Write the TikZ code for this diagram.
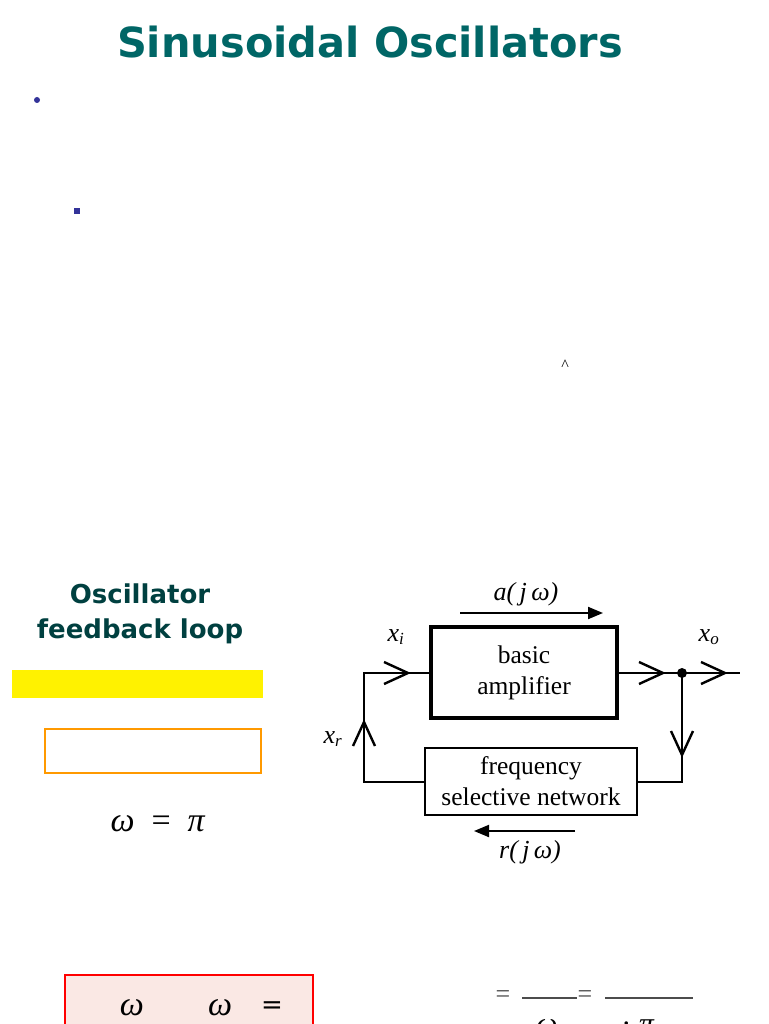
\documentclass[tikz,border=0pt]{standalone}
\usepackage{fontspec}
\setmainfont{Liberation Serif}
\newfontfamily\dvs{DejaVu Sans}
\usetikzlibrary{arrows.meta}
\definecolor{teal1}{RGB}{0,102,102}
\definecolor{teal2}{RGB}{0,64,64}
\definecolor{bul}{RGB}{51,51,153}
\definecolor{orng}{RGB}{255,153,0}
\definecolor{pinkf}{RGB}{250,232,228}
\begin{document}
\begin{tikzpicture}[x=1pt,y=-1pt,
  wire/.style={line width=2.4pt},
  chev/.style={line width=2.4pt},
  lbl/.style={font=\fontsize{26}{26}\selectfont\itshape},
  boxtxt/.style={font=\fontsize{25.5}{31}\selectfont,align=center}]
\useasboundingbox[fill=white] (0,0) rectangle (768,1024);
\node[font=\dvs\bfseries\fontsize{41.5}{44}\selectfont,text=teal1] (title) at (370,42) {Sinusoidal Oscillators};
\fill[bul] (37,100) circle (3);
\fill[bul] (74,208) rectangle (80,214);
\node[font=\fontsize{16}{16}\selectfont] (hat) at (565,365) {\^{}};
\node[font=\dvs\bfseries\fontsize{26}{35}\selectfont,text=teal2,align=center] (ofl) at (140,614) {Oscillator\\feedback loop};
\fill[yellow] (12,670) rectangle (263,698);
\draw[orng,line width=1.5pt] (45,729) rectangle (261,773);
\node[font=\fontsize{34}{34}\selectfont] (eq1) at (158,824) {\textit{ω}\ \ =\ \ \textit{π}};
\fill[pinkf] (65,975) rectangle (313,1030);
\draw[red,line width=1.5pt] (65,1030) -- (65,975) -- (313,975) -- (313,1030);
\node[font=\fontsize{34}{34}\selectfont] (pw1) at (132,1008) {\textit{ω}};
\node[font=\fontsize{34}{34}\selectfont] (pw2) at (220,1008) {\textit{ω}};
\node[font=\dvs\fontsize{26}{26}\selectfont] (peq) at (272,1008) {=};
\node[font=\fontsize{26}{26}\selectfont,text=gray!60!black] (r1) at (503,997) {=};
\draw[gray!60!black,line width=1.2pt] (522,998) -- (577,998);
\node[font=\fontsize{26}{26}\selectfont,text=gray!60!black] (r2) at (585,997) {=};
\draw[gray!60!black,line width=1.2pt] (605,998) -- (693,998);
\node[font=\fontsize{30}{30}\selectfont\itshape] (rw) at (547,1027) {ω};
\node[font=\fontsize{30}{30}\selectfont] (rd) at (638,1027) {·\ \textit{π}};
% diagram
\node[draw,line width=3.4pt,minimum width=186,minimum height=91,inner sep=0] (amp) at (524,672.5) {};
\node[boxtxt] at (amp) {basic\\amplifier};
\node[draw,line width=2.4pt,minimum width=212,minimum height=67,inner sep=0] (fsn) at (531,781.5) {};
\node[boxtxt] at (fsn) {frequency\\selective network};
\coordinate (tl) at (364,673);
\coordinate (bl) at (364,782);
\coordinate (jn) at (682,673);
\coordinate (br) at (682,782);
\coordinate (out) at (740,673);
\draw[wire] (amp.west |- tl) -- (tl) -- (bl) -- (fsn.west |- bl);
\draw[wire] (amp.east |- jn) -- (out);
\draw[wire] (jn) -- (br) -- (fsn.east |- br);
\fill (jn) circle (5);
\foreach \x in {408,663,725} \draw[chev] (\x-24,662) -- (\x,673) -- (\x-24,684);
\draw[chev] (671,731) -- (682,755) -- (693,731);
\draw[chev] (353,746) -- (364,722) -- (375,746);
\node[lbl] (xi) at (396,637) {x\textsubscript{\fontsize{17}{17}\selectfont i}};
\node[lbl] (xo) at (709,637) {x\textsubscript{\fontsize{17}{17}\selectfont o}};
\node[lbl] (xr) at (333,739) {x\textsubscript{\fontsize{17}{17}\selectfont r}};
\node[lbl] (a) at (526,594) {a(\,j\,ω)};
\node[lbl] (r) at (530,852) {r(\,j\,ω)};
\coordinate (a1) at (460,613); \coordinate (a2) at (603,613);
\coordinate (r1c) at (575,831); \coordinate (r2c) at (474,831);
\draw[line width=2pt,-{Triangle[length=15pt,width=12pt]}] (a1) -- (a2);
\draw[line width=2pt,-{Triangle[length=15pt,width=12pt]}] (r1c) -- (r2c);
\end{tikzpicture}
\end{document}
